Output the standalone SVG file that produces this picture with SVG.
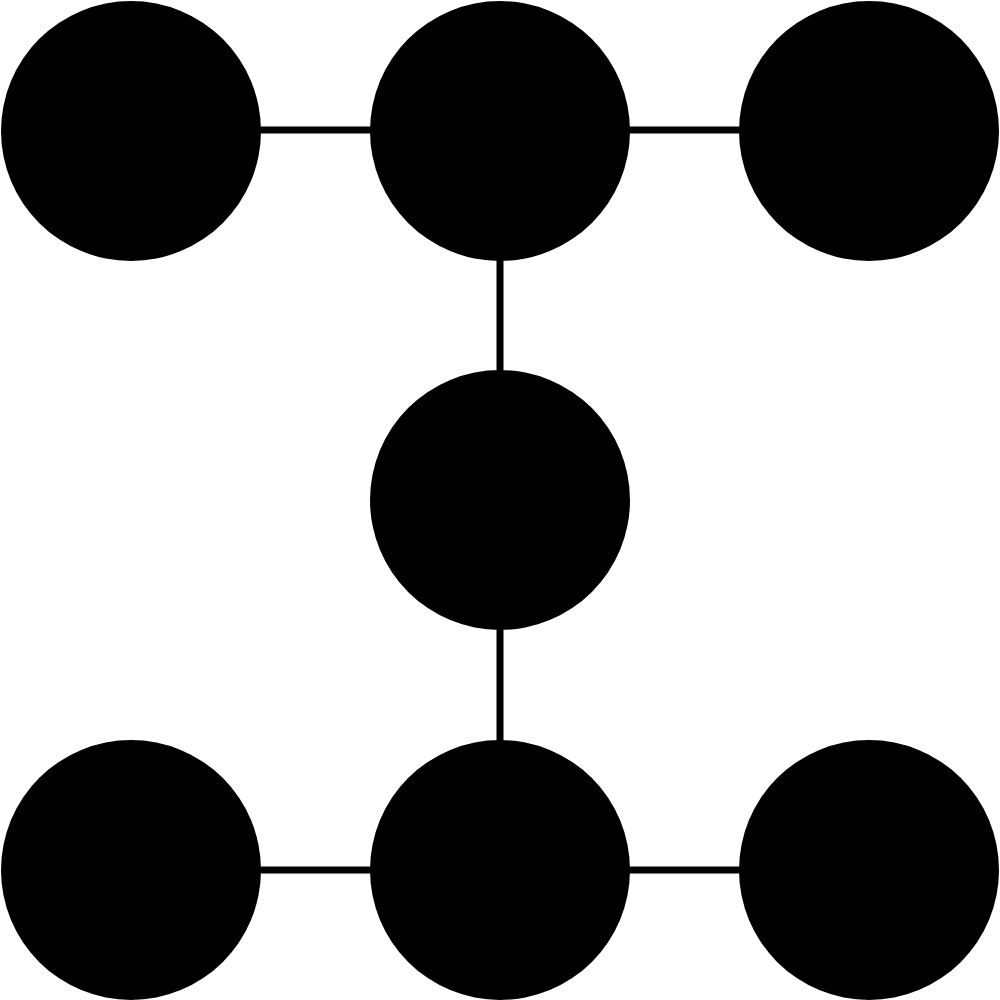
<svg xmlns="http://www.w3.org/2000/svg" width="1000" height="1000" viewBox="0 0 1000 1000">
<style>
.node{fill:#000}
.edge{stroke:#000;stroke-width:7;fill:none}
</style>
<rect width="1000" height="1000" fill="#fff"/>
<g id="connectors">
<line class="edge" x1="131" y1="130" x2="500" y2="130"/>
<line class="edge" x1="500" y1="130" x2="869" y2="130"/>
<line class="edge" x1="500" y1="130" x2="500" y2="870"/>
<line class="edge" x1="131" y1="870" x2="500" y2="870"/>
<line class="edge" x1="500" y1="870" x2="869" y2="870"/>
</g>
<g id="node-top-left"><circle class="node" cx="131" cy="131" r="130"/></g>
<g id="node-top-center"><circle class="node" cx="500" cy="131" r="130"/></g>
<g id="node-top-right"><circle class="node" cx="869" cy="131" r="130"/></g>
<g id="node-middle"><circle class="node" cx="500" cy="500" r="130"/></g>
<g id="node-bottom-left"><circle class="node" cx="131" cy="870" r="130"/></g>
<g id="node-bottom-center"><circle class="node" cx="500" cy="870" r="130"/></g>
<g id="node-bottom-right"><circle class="node" cx="869" cy="870" r="130"/></g>
</svg>
